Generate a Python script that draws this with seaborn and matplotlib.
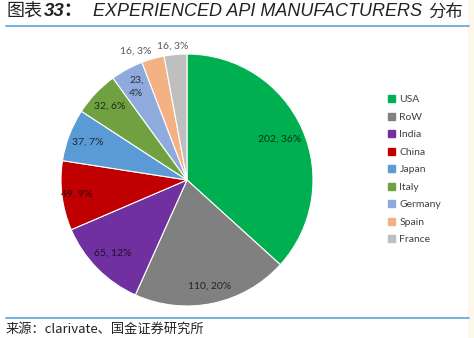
import numpy as np
import matplotlib
matplotlib.use("Agg")
import matplotlib.pyplot as plt
import seaborn as sns

sns.set_theme(style="white")
plt.rcParams["font.family"] = ["Lato", "Noto Sans CJK SC", "DejaVu Sans"]

# Data
countries = ["USA", "RoW", "India", "China", "Japan", "Italy", "Germany", "Spain", "France"]
counts = [202, 110, 65, 49, 37, 32, 23, 16, 16]
pct_labels = ["36%", "20%", "12%", "9%", "7%", "6%", "4%", "3%", "3%"]
colors = ["#00B050", "#808080", "#7030A0", "#C00000", "#5B9BD5",
          "#70A03F", "#8FAADC", "#F4B183", "#BFBFBF"]

# radial position of each value label (fraction of radius) and angular nudge (deg)
label_dist = [0.80, 0.86, 0.83, 0.88, 0.84, 0.85, 0.84, 1.10, 1.07]
label_nudge = [0, 0, 0, 0, 0, 0, 0, 6, 1]

W, H = 474, 338
fig = plt.figure(figsize=(W / 100, H / 100), dpi=100)
fig.patch.set_facecolor("white")

# faint cream margin on the right
fig.patches.append(plt.Rectangle((468 / W, 0), 6 / W, 1, transform=fig.transFigure,
                                 color="#FDF8EE", zorder=0))

# title and rules
fig.text(6 / W, 1 - 12 / H, "图表", fontsize=13, style="italic",
         family=["Noto Sans CJK SC"], va="center", ha="left", color="#222222")
fig.text(44 / W, 1 - 12 / H, "33：", fontsize=13.5, style="italic", weight="bold",
         family=["Liberation Sans", "Noto Sans CJK SC"], va="center", ha="left", color="#222222")
fig.text(93 / W, 1 - 12 / H, "EXPERIENCED API MANUFACTURERS", fontsize=13, style="italic",
         family=["Liberation Sans"], va="center", ha="left", color="#222222")
fig.text(428 / W, 1 - 12 / H, "分布", fontsize=12.5, style="italic",
         family=["Noto Sans CJK SC"], va="center", ha="left", color="#222222")
fig.add_artist(plt.Line2D([6 / W, 469 / W], [1 - 25.5 / H] * 2, color="#5BA4D8", lw=1.2))
fig.add_artist(plt.Line2D([6 / W, 469 / W], [1 - 318 / H] * 2, color="#5BA4D8", lw=1.2))
fig.text(6 / W, 1 - 329 / H, "来源：clarivate、国金证券研究所", fontsize=9.5,
         family=["Noto Sans CJK SC"], va="center", ha="left", color="#222222")

# pie
cx, cy, r = 187, 180, 126
ax = fig.add_axes([(cx - r) / W, 1 - (cy + r) / H, 2 * r / W, 2 * r / H])
wedges, _ = ax.pie(counts, colors=colors, startangle=90, counterclock=False,
                   wedgeprops=dict(linewidth=0.8, edgecolor="white"), radius=1.0)
ax.set_xlim(-1, 1)
ax.set_ylim(-1, 1)
ax.set_aspect("equal")
ax.axis("off")

for w, n, p, d, nd, name in zip(wedges, counts, pct_labels, label_dist, label_nudge, countries):
    ang = np.deg2rad((w.theta1 + w.theta2) / 2 + nd)
    x, y = d * np.cos(ang), d * np.sin(ang)
    txt = f"{n},\n{p}" if name == "Germany" else f"{n}, {p}"
    outside = d > 1
    ax.text(x, y, txt, ha="center", va="center", fontsize=7.5,
            color="#595959" if outside else "black", alpha=1 if outside else 0.72,
            linespacing=1.6, clip_on=False)

# legend
lax = fig.add_axes([388 / W, 1 - 255 / H, 80 / W, 160 / H])
lax.axis("off")
handles = [plt.Rectangle((0, 0), 1, 1, color=c) for c in colors]
lax.legend(handles, countries, loc="upper left", frameon=False, fontsize=7.5,
           handlelength=0.7, handleheight=0.7, handletextpad=0.4,
           labelspacing=0.79, borderpad=0, borderaxespad=0,
           labelcolor="#404040")

fig.savefig("out.png", dpi=100, facecolor="white")
